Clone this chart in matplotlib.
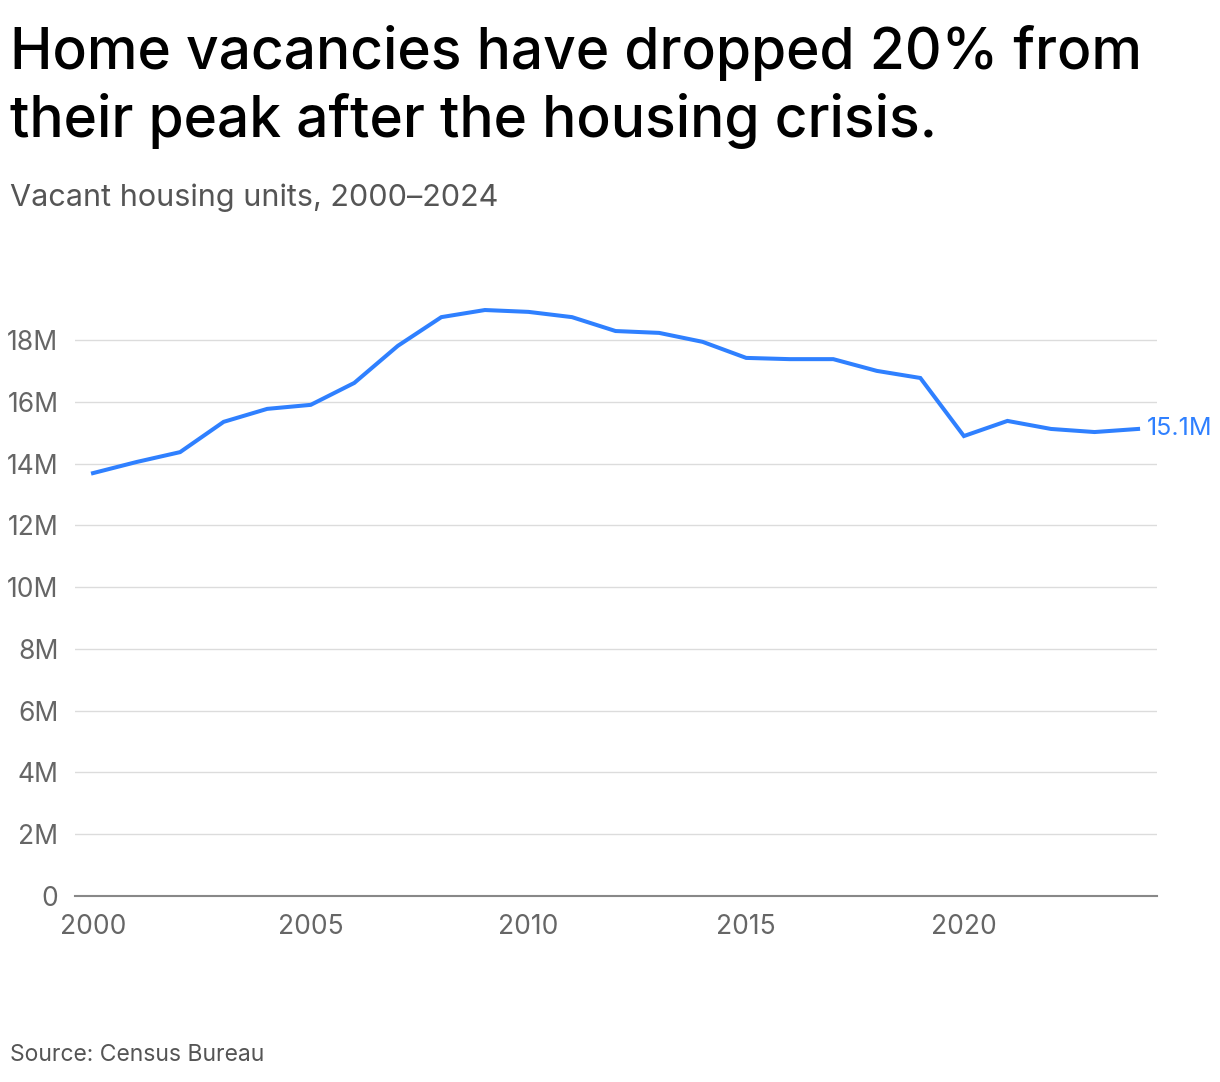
import matplotlib.pyplot as plt

plt.rcParams['font.family'] = ['Inter', 'DejaVu Sans']

# Vacant housing units (millions)
years = list(range(2000, 2025))
vacant = [13.69, 14.05, 14.37, 15.35, 15.77, 15.90, 16.61, 17.81, 18.74, 18.97,
          18.91, 18.74, 18.29, 18.23, 17.94, 17.42, 17.38, 17.38, 17.00, 16.77,
          14.89, 15.38, 15.12, 15.02, 15.12]
yticks = [0, 2, 4, 6, 8, 10, 12, 14, 16, 18]
ytick_labels = ['0'] + [f'{v}M' for v in yticks[1:]]
xticks = [2000, 2005, 2010, 2015, 2020]

blue = '#2f80ff'

fig = plt.figure(figsize=(12.2, 10.82), dpi=100)
ax = fig.add_axes([0.0615, 0.1719, 0.8869, 0.5567])

ax.plot(years, vacant, color=blue, linewidth=2.9, solid_joinstyle='miter', zorder=3)
ax.text(years[-1] + 0.2, vacant[-1], f'{vacant[-1]:.1f}M', color=blue, fontsize=18,
        va='center', ha='left')

ax.set_xlim(1999.587, 2024.436)
ax.set_ylim(0, 19.5)
ax.set_yticks(yticks)
ax.set_yticklabels(ytick_labels)
ax.set_xticks(xticks)
ax.grid(axis='y', color='#dcdcdc', linewidth=1)
ax.set_axisbelow(True)
for s in ['top', 'right', 'left']:
    ax.spines[s].set_visible(False)
ax.spines['bottom'].set_color('#888888')
ax.spines['bottom'].set_linewidth(1.5)
ax.tick_params(axis='both', length=0, labelsize=19, labelcolor='#666666')
ax.tick_params(axis='y', pad=12)
ax.tick_params(axis='x', pad=13)

fig.text(0.008, 0.8734, 'Home vacancies have dropped 20% from\ntheir peak after the housing crisis.',
         fontsize=41, fontweight='medium', color='black', va='baseline', ha='left',
         linespacing=1.28)
fig.text(0.008, 0.81, 'Vacant housing units, 2000\u20132024', fontsize=22, color='#555555',
         va='baseline', ha='left')
fig.text(0.008, 0.019, 'Source: Census Bureau', fontsize=16.5, color='#555555',
         va='baseline', ha='left')

fig.savefig('out.png', dpi=100)
